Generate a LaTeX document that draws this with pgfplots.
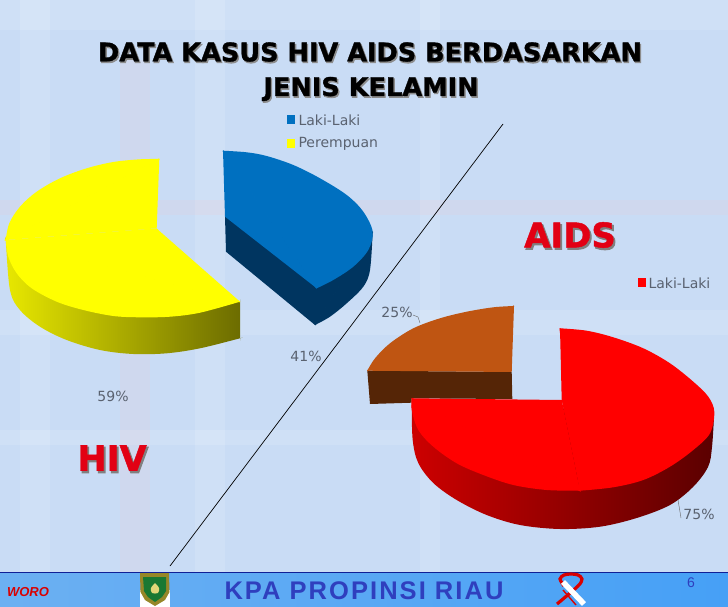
\documentclass[border=0pt]{standalone}
\usepackage{pgfplots}
\pgfplotsset{compat=1.18}
\usepackage{fontspec}
\setmainfont{DejaVu Sans}
\newfontfamily\footfont[LetterSpace=8]{Liberation Sans}
\newfontfamily\smallfoot{Liberation Sans}
\newfontfamily\heavy[BoldFeatures={FakeBold=1.3}]{DejaVu Sans}
\newfontfamily\heavyw[BoldFeatures={FakeBold=3}]{DejaVu Sans}
\definecolor{bgb}{HTML}{C9DCF5}
\definecolor{lab}{HTML}{5A6270}
\definecolor{hdr}{HTML}{2F3FBE}
\definecolor{pyellow}{RGB}{255,255,0}
\definecolor{yell}{RGB}{232,232,0}
\definecolor{yelr}{RGB}{105,105,0}
\definecolor{pred}{RGB}{255,0,0}
\definecolor{redl}{RGB}{205,0,0}
\definecolor{redr}{RGB}{90,0,0}
\definecolor{bluetop}{RGB}{0,112,192}
\definecolor{blueside}{RGB}{0,53,96}
\definecolor{brownside}{RGB}{85,37,6}
\definecolor{browntop}{RGB}{191,85,18}
\definecolor{footl}{RGB}{108,176,242}
\definecolor{footr}{RGB}{70,160,246}
\definecolor{footline}{RGB}{16,32,150}
\definecolor{emgold}{RGB}{150,135,40}
\definecolor{emgreen}{RGB}{25,120,50}
\definecolor{emlight}{RGB}{225,215,120}
\definecolor{wred}{RGB}{226,0,20}
\newcommand\poly[2]{\addplot[draw=none,fill=#1,forget plot] coordinates {#2};}
\newcommand\arcfill[2]{\addplot[draw=none,fill=#1,smooth,tension=.55,forget plot] coordinates {#2};}
\newcommand\chordline[2]{\addplot[draw=#1,line width=1.2pt,forget plot] coordinates {#2};}
\newcommand\wdg[2]{\addplot[draw=none,fill=#1,forget plot] coordinates {#2} -- cycle;}
\newcommand\band[2]{\addplot[draw=none,fill=#2,fill opacity=.13,forget plot] coordinates {#1};}
\newcommand\tc[7]{\node[text=#5,xshift=#6pt,yshift=#7pt,font=#3] at (axis cs:#1,#2) {#4};}
\newcommand\fancy[4]{%
 \tc{#1}{#2}{\heavyw\bfseries\fontsize{#3}{#3}\selectfont}{#4}{black!50}{1.6}{-2}%
 \tc{#1}{#2}{\heavy\bfseries\fontsize{#3}{#3}\selectfont}{#4}{wred}{0}{0}%
}
\newcommand\ttl[4]{%
 \tc{#1}{#2}{\heavyw\bfseries\fontsize{#3}{#3}\selectfont}{#4}{black!45}{1.2}{-1.5}%
 \tc{#1}{#2}{\heavy\bfseries\fontsize{#3}{#3}\selectfont}{#4}{black}{0}{0}%
}
\begin{document}
\begin{tikzpicture}
\begin{axis}[scale only axis,width=728pt,height=607pt,xmin=0,xmax=728,ymin=0,ymax=607,y dir=reverse,hide axis,clip=true]
% background
\poly{bgb}{(0,0)(728,0)(728,607)(0,607)}
\band{(0,0)(728,0)(728,30)(0,30)}{white}
\band{(20,0)(50,0)(50,607)(20,607)}{white}
\band{(195,0)(225,0)(225,607)(195,607)}{white}
\band{(420,0)(440,0)(440,607)(420,607)}{white}
\band{(0,310)(728,310)(728,335)(0,335)}{white}
\band{(0,430)(728,430)(728,445)(0,445)}{white}
\band{(120,60)(150,60)(150,607)(120,607)}{pink}
\band{(0,200)(728,200)(728,215)(0,215)}{pink}
% diagonal
\addplot[black,line width=.7pt,forget plot] coordinates {(503,124)(170,566)};
% HIV yellow: side, then top face
\addplot[draw=none,smooth,tension=.55,left color=yell,right color=yelr,forget plot] coordinates {(5.7,240)(5.7,240)(5.7,240)(10,290)(20,310)(40,326.7)(66.7,340)(100,350)(133.3,354)(166.7,353.3)(200,348.3)(240,338.3)(240,338.3)(240,338.3)(240,301.7)(240,301.7)(240,301.7)};
\wdg{pyellow}{(159.3,159)(5.7,240)(156.7,228.3)}
\wdg{pyellow}{(5.7,240)(240,301.7)(158.3,230)(156.7,228.3)}
\arcfill{pyellow}{(159.3,159)(140,159.3)(113.3,162)(86.7,168.3)(60,178.3)(36.7,191.7)(20,206.7)(9.3,223.3)(5.7,240)}
\arcfill{pyellow}{(5.7,240)(8.3,256.7)(16.7,273.3)(31.7,288.3)(56.7,301.7)(83.3,310)(113.3,316)(140,317.3)(170,316.7)(200,312.7)(240,301.7)}
\chordline{pyellow}{(159.3,159)(5.7,240)(240,301.7)}
% HIV blue
\wdg{blueside}{(372.7,231.7)(315,325)(226,251.7)(225,216.7)}
\arcfill{blueside}{(372.7,231.7)(370,270)(363.3,286.7)(346.7,303.3)(330,316.7)(315,325)}
\chordline{blueside}{(372.7,231.7)(315,325)}
\wdg{bluetop}{(223,150.7)(316.7,288.3)(225,216.7)}
\arcfill{bluetop}{(223,150.7)(246.7,152.3)(266.7,156)(293.3,165)(320,178.3)(346.7,195)(363.3,211.7)(372.7,231.7)(368.3,250)(353.3,266.7)(333.3,280)(316.7,288.3)}
\chordline{bluetop}{(223,150.7)(316.7,288.3)}
% AIDS brown
\poly{brownside}{(367.3,370.7)(511.7,372)(512.3,399)(411.7,398.3)(411.7,402.7)(370,404)}
\wdg{browntop}{(514,306)(367.3,370.7)(511.7,372)}
\arcfill{browntop}{(514,306)(493.3,307.3)(466.7,311.7)(440,318.3)(413.3,328.3)(390,343.3)(375,358.3)(367.3,370.7)}
\chordline{browntop}{(514,306)(367.3,370.7)}
% AIDS red
\addplot[draw=none,smooth,tension=.55,left color=redl,right color=redr,forget plot] coordinates {(411.7,405)(411.7,405)(411.7,405)(412.7,440)(418.3,463)(433.3,483)(456.7,500)(486.7,515)(520,525)(560,529)(600,526.7)(636.7,518)(670,505)(693,487)(708,467)(712,447)(714.3,411.7)(714.3,411.7)(714.3,411.7)};
\wdg{pred}{(560,328.3)(580,490.7)(561.7,400)}
\wdg{pred}{(580,490.7)(411.7,398.3)(561.7,400)}
\arcfill{pred}{(560,328.3)(586.7,330.7)(613.3,337.3)(643.3,348.3)(670,363.3)(693.3,381.7)(708.3,396.7)(714.3,411.7)(710,433.3)(693.3,450)(670,466.7)(643.3,480)(613.3,487.3)(580,490.7)}
\arcfill{pred}{(580,490.7)(546.7,490)(513.3,485)(483.3,475)(456.7,463.3)(433.3,446.7)(418.3,430)(411.7,410)(411.7,398.3)}
\chordline{pred}{(560,328.3)(580,490.7)(411.7,398.3)}
% leaders
\addplot[black!60,line width=.4pt,forget plot] coordinates {(413,315)(418,317)(420,323)};
\addplot[black!60,line width=.4pt,forget plot] coordinates {(678,500)(681,518)};
% legend squares
\poly{bluetop}{(287,115)(295,115)(295,124)(287,124)}
\poly{pyellow}{(287,139)(295,139)(295,148)(287,148)}
\poly{pred}{(638,278)(646,278)(646,287)(638,287)}
% footer
\addplot[draw=none,left color=footl,right color=footr,forget plot] coordinates {(0,573)(728,573)(728,607)(0,607)};
\addplot[footline,line width=1.6pt,forget plot] coordinates {(0,572.5)(728,572.5)};
% emblem
\poly{white}{(140,590)(170,590)(170,607)(140,607)}
\poly{emgold}{(140,573)(169,573)(169.5,592)(165,600)(155,606)(145,600)(140.5,592)}
\poly{emgreen}{(143,577)(166,577)(166,591)(162,597)(155,602)(148,597)(144,591)}
\arcfill{emlight}{(155,583)(159,588)(158,593)(152,593)(151,588)(155,583)}
% ribbon
\addplot[pred!85!black,line width=3.2pt,smooth,forget plot] coordinates {(564,586)(560,579)(564,575)(571,574)(578,575)(582,579)(578,586)(557,604)};
\addplot[white,line width=5.5pt,forget plot] coordinates {(563,582)(584,604)};
\addplot[pred!85!black,line width=1.4pt,forget plot] coordinates {(563,590)(576,605)};
% texts
\ttl{370}{52}{25.6}{DATA KASUS HIV AIDS BERDASARKAN}
\ttl{371}{89}{25.6}{JENIS KELAMIN}
\fancy{570}{235}{34}{AIDS}
\fancy{112}{458}{35}{HIV}
\node[anchor=west,text=lab,font=\fontsize{14}{14}\selectfont] at (axis cs:295,120) {Laki-Laki};
\node[anchor=west,text=lab,font=\fontsize{14}{14}\selectfont] at (axis cs:295,144) {Perempuan};
\node[anchor=west,text=lab,font=\fontsize{14}{14}\selectfont] at (axis cs:645,283) {Laki-Laki};
\node[text=lab,font=\fontsize{14}{14}\selectfont] at (axis cs:306,356) {41\%};
\node[text=lab,font=\fontsize{14}{14}\selectfont] at (axis cs:113,396) {59\%};
\node[text=lab,font=\fontsize{14}{14}\selectfont] at (axis cs:397,312) {25\%};
\node[text=lab,font=\fontsize{14}{14}\selectfont] at (axis cs:699,514) {75\%};
\node[text=hdr,font=\footfont\bfseries\fontsize{25.5}{25.5}\selectfont] at (axis cs:364,591) {KPA PROPINSI RIAU};
\node[text=red!85!black,font=\smallfoot\bfseries\itshape\fontsize{13}{13}\selectfont] at (axis cs:28,592) {WORO};
\node[text=hdr,font=\smallfoot\fontsize{14}{14}\selectfont] at (axis cs:691,583) {6};
\end{axis}
\end{tikzpicture}
\end{document}
